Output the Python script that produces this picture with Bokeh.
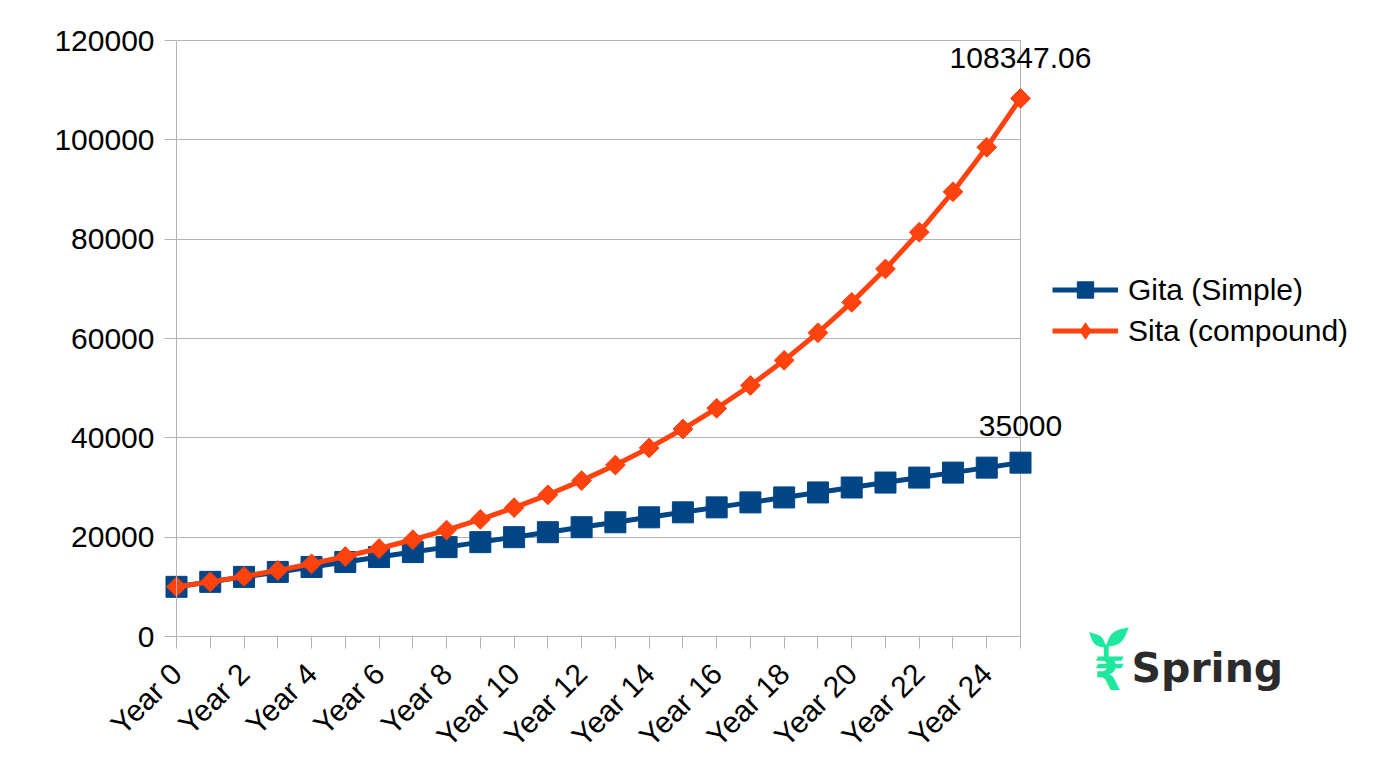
import math
from bokeh.plotting import figure
from bokeh.models import (Range1d, FixedTicker, Legend, LegendItem, Label,
                          PolyAnnotation, ColumnDataSource, Grid)
from bokeh.embed import file_html
from bokeh.resources import INLINE

# ---------------- data ----------------
years = [f"Year {i}" for i in range(26)]
year_index = list(range(26))
gita = [10000, 11000, 12000, 13000, 14000, 15000, 16000, 17000, 18000, 19000,
        20000, 21000, 22000, 23000, 24000, 25000, 26000, 27000, 28000, 29000,
        30000, 31000, 32000, 33000, 34000, 35000]
sita = [10000.00, 11000.00, 12100.00, 13310.00, 14641.00, 16105.10, 17715.61,
        19487.17, 21435.89, 23579.48, 25937.42, 28531.17, 31384.28, 34522.71,
        37974.98, 41772.48, 45949.73, 50544.70, 55599.17, 61159.09, 67275.00,
        74002.50, 81402.75, 89543.03, 98497.33, 108347.06]
y_ticks = [0, 20000, 40000, 60000, 80000, 100000, 120000]
y_tick_labels = ["0", "20000", "40000", "60000", "80000", "100000", "120000"]
series_names = ["Gita (Simple)", "Sita (compound)"]

BLUE = "#004586"
ORANGE = "#ff420e"
GRID = "#b3b3b3"
FONT = "Liberation Sans"

# geometry (picture pixels)
W, H = 1384, 759
PL, PR, PT, PB = 176, 1020, 40, 636   # chart area (0..25, 0..120000)
XMAX, YMAX = year_index[-1], y_ticks[-1]
KX = XMAX / (PR - PL)
KY = YMAX / (PB - PT)

def dx(px):
    return (px - PL) * KX

def dy(py):
    return (PB - py) * KY

# the frame covers the whole canvas; axes are pinned at 0 so nothing is clipped
p = figure(width=W, height=H, output_backend="svg", toolbar_location=None,
           x_range=Range1d(dx(0), dx(W)), y_range=Range1d(dy(H), dy(0)),
           min_border_left=0, min_border_right=0,
           min_border_top=0, min_border_bottom=0)

p.outline_line_color = None
p.background_fill_color = "white"
p.border_fill_color = "white"

# grid restricted to the chart area
p.xgrid.visible = False
p.ygrid.visible = False
if "cross_bounds" in Grid.properties():
    p.add_layout(Grid(dimension=1, ticker=FixedTicker(ticks=y_ticks), bounds=(0, YMAX),
                      cross_bounds=(0, XMAX), grid_line_color=GRID, grid_line_width=1))
    p.add_layout(Grid(dimension=0, ticker=FixedTicker(ticks=[XMAX]), bounds=(0, XMAX),
                      cross_bounds=(0, YMAX), grid_line_color=GRID, grid_line_width=1))
else:
    p.segment(x0=[0] * len(y_ticks), x1=[XMAX] * len(y_ticks), y0=y_ticks, y1=y_ticks,
              line_color=GRID, line_width=1)
    p.segment(x0=[XMAX], x1=[XMAX], y0=[0], y1=[YMAX], line_color=GRID, line_width=1)

p.xaxis.ticker = FixedTicker(ticks=year_index)
p.xaxis.major_label_overrides = {i: (years[i] if i % 2 == 0 else "") for i in year_index}
p.xaxis.major_label_orientation = math.pi / 4
p.xaxis.fixed_location = 0
p.xaxis.bounds = (0, XMAX)
p.yaxis.ticker = FixedTicker(ticks=y_ticks)
p.yaxis.major_label_overrides = {t: l for t, l in zip(y_ticks, y_tick_labels)}
p.yaxis.fixed_location = 0
p.yaxis.bounds = (0, YMAX)

for ax in (p.xaxis, p.yaxis):
    ax.axis_line_color = GRID
    ax.axis_line_width = 1
    ax.major_tick_line_color = GRID
    ax.major_tick_line_width = 1
    ax.major_tick_in = 0
    ax.major_tick_out = 12
    ax.minor_tick_line_color = None
    ax.major_label_text_font = FONT
    ax.major_label_text_font_size = "30px"
    ax.major_label_text_color = "#000000"
p.yaxis.major_label_standoff = 10
p.xaxis.major_label_standoff = 20

src = ColumnDataSource(dict(x=year_index, gita=gita, sita=sita))

g_line = p.line("x", "gita", source=src, line_color=BLUE, line_width=5)
g_mark = p.scatter("x", "gita", source=src, marker="square", size=21,
                   fill_color=BLUE, line_color=BLUE)
s_line = p.line("x", "sita", source=src, line_color=ORANGE, line_width=5)
s_mark = p.scatter("x", "sita", source=src, marker="square", angle=math.pi / 4,
                   size=14, fill_color=ORANGE, line_color=ORANGE)
# legend-only diamond for the compound series
s_leg = p.scatter("x", "sita", source=src, marker="diamond", size=14,
                  fill_color=ORANGE, line_color=ORANGE, visible=False)

legend = Legend(items=[LegendItem(label=series_names[0], renderers=[g_line, g_mark]),
                       LegendItem(label=series_names[1], renderers=[s_line, s_leg])],
                location=(1052, H - 351),
                glyph_width=66, glyph_height=41, label_height=41, spacing=0,
                padding=0, margin=0, label_standoff=10,
                label_text_font=FONT, label_text_font_size="30px",
                label_text_color="#000000", label_text_baseline="middle",
                background_fill_alpha=0, border_line_color=None,
                inactive_fill_alpha=0)
p.add_layout(legend, "center")

# data labels on last points
for yv, txt, off in [(sita[-1], f"{sita[-1]:.2f}", 40), (gita[-1], f"{gita[-1]}", 37)]:
    p.add_layout(Label(x=year_index[-1], y=yv, y_offset=off, text=txt,
                       text_align="center", text_baseline="alphabetic",
                       text_font=FONT, text_font_size="30px", text_color="#000000"))

# ---------------- logo ----------------
GREEN = "#1ee8a0"

def leaf(bx, by, tx, ty, w):
    n = 16
    xs, ys = [], []
    ux, uy = tx - bx, ty - by
    L = math.hypot(ux, uy)
    nx, ny = -uy / L, ux / L
    for side in (1, -1):
        rng = range(n + 1) if side == 1 else range(n, -1, -1)
        for k in rng:
            t = k / n
            off = side * w * math.sin(math.pi * t) * (1 - 0.3 * t)
            xs.append(dx(bx + ux * t + nx * off))
            ys.append(dy(by + uy * t + ny * off))
    return xs, ys

for (bx, by, tx, ty, w) in [(1105, 647, 1089, 632, 5.5), (1106, 646, 1128, 627, 7)]:
    xs, ys = leaf(bx, by, tx, ty, w)
    p.add_layout(PolyAnnotation(xs=xs, ys=ys, fill_color=GREEN, fill_alpha=1,
                                line_color=GREEN, line_width=1))
# stem
p.add_layout(PolyAnnotation(xs=[dx(1103.5), dx(1108), dx(1108), dx(1103.5)],
                            ys=[dy(644), dy(644), dy(657), dy(657)],
                            fill_color=GREEN, fill_alpha=1, line_color=GREEN))
p.add_layout(Label(x=dx(1109), y=dy(673), text="₹", text_align="center",
                   text_baseline="alphabetic", text_font="DejaVu Sans",
                   text_font_style="bold", text_font_size="46px", text_color=GREEN))
p.add_layout(Label(x=dx(1131), y=dy(667), text="Spring", text_align="left",
                   text_baseline="alphabetic", text_font="DejaVu Sans",
                   text_font_style="bold", text_font_size="41px", text_color="#2b2b2b"))

open("out.html", "w").write(file_html(p, INLINE))
